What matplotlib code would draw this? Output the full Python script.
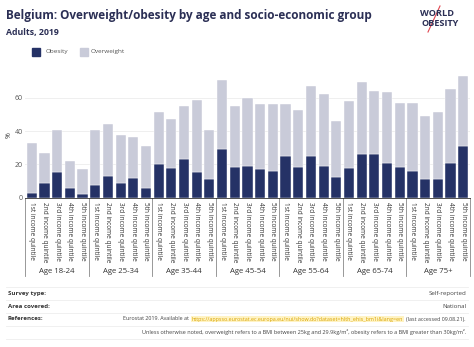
import numpy as np
import matplotlib
matplotlib.use("Agg")
import matplotlib.pyplot as plt
from matplotlib.patches import Rectangle
from matplotlib.lines import Line2D

plt.rcParams['font.family'] = ['Open Sans', 'DejaVu Sans']

age_groups = ["Age 18-24", "Age 25-34", "Age 35-44", "Age 45-54",
              "Age 55-64", "Age 65-74", "Age 75+"]
quintiles = ["1st income quintile", "2nd income quintile", "3rd income quintile",
             "4th income quintile", "5th income quintile"]

# % of adults, per age group, quintiles 1..5
obesity = [2.8, 8.6, 15.6, 6.0, 2.0,
           7.6, 12.8, 8.6, 11.8, 6.0,
           20.0, 17.6, 23.2, 15.4, 11.2,
           29.0, 18.6, 19.0, 17.2, 15.8,
           25.2, 18.2, 24.8, 18.8, 12.2,
           17.8, 26.4, 26.4, 21.0, 18.2,
           15.8, 11.2, 11.0, 20.8, 31.0]
overweight = [30.0, 18.0, 25.2, 15.8, 15.4,
              33.4, 31.8, 29.2, 24.4, 24.8,
              31.4, 29.6, 32.0, 43.2, 29.8,
              41.6, 36.4, 41.0, 39.4, 40.8,
              31.4, 34.8, 42.6, 43.6, 33.8,
              40.4, 43.0, 37.8, 42.4, 38.8,
              41.4, 38.2, 40.4, 44.8, 42.4]

navy = "#253266"
grey = "#c9cbd9"
text_col = "#2b2f55"

fig = plt.figure(figsize=(4.74, 3.47), dpi=100)
ax = fig.add_axes([0.0536, 0.430, 0.937, 0.36])

x = np.arange(len(obesity))
ax.bar(x, obesity, width=0.8, color=navy, edgecolor="white", linewidth=0.3, zorder=3)
ax.bar(x, overweight, bottom=obesity, width=0.8, color=grey, edgecolor="white",
       linewidth=0.3, zorder=3)

ax.set_xlim(-0.5, len(x) - 0.5)
ax.set_ylim(0, 75)
ax.set_yticks([0, 20, 40, 60])
ax.tick_params(axis='y', length=0, labelsize=5, labelcolor="#555555", pad=2)
ax.grid(axis='y', color="#ececec", linewidth=0.6, zorder=0)
for s in ["top", "right", "left"]:
    ax.spines[s].set_visible(False)
ax.spines["bottom"].set_color("#333333")
ax.spines["bottom"].set_linewidth(0.6)
ax.set_ylabel("%", fontsize=5, color="#333333", labelpad=1)

ax.set_xticks(x)
ax.set_xticklabels(quintiles * len(age_groups), rotation=270, fontsize=4.7,
                   color="#333333", va="top", ha="center")
ax.tick_params(axis='x', length=0, pad=3)

# group separators and age labels under the tick labels
for i in range(len(age_groups) + 1):
    xs = i * 5 - 0.5
    ax.add_line(Line2D([xs, xs], [0, -47], color="#888888", linewidth=0.6,
                       clip_on=False))
for i, g in enumerate(age_groups):
    ax.text(i * 5 + 2, -44.5, g, ha="center", va="center", fontsize=5.6,
            color="#333333", clip_on=False)

# legend
fig.patches.append(Rectangle((32 / 474, 1 - 56 / 347), 8 / 474, 8 / 347,
                             transform=fig.transFigure, color=navy))
fig.text(46 / 474, 1 - 52 / 347, "Obesity", fontsize=4.6, color="#555555", va="center")
fig.patches.append(Rectangle((80 / 474, 1 - 56 / 347), 8 / 474, 8 / 347,
                             transform=fig.transFigure, color=grey))
fig.text(91 / 474, 1 - 52 / 347, "Overweight", fontsize=4.6, color="#555555", va="center")

# titles
fig.text(6 / 474, 1 - 15 / 347, "Belgium: Overweight/obesity by age and socio-economic group",
         fontsize=8.5, fontweight="bold", color=text_col, va="center")
fig.text(6 / 474, 1 - 33 / 347, "Adults, 2019", fontsize=6.3, fontweight="bold",
         color=text_col, va="center")

# logo
fig.text(420 / 474, 1 - 14 / 347, "WORLD", fontsize=6.6, fontweight="bold",
         color=text_col, va="center")
fig.text(421 / 474, 1 - 24 / 347, "OBESITY", fontsize=6.6, fontweight="bold",
         color=text_col, va="center")
fig.lines.append(Line2D([428 / 474, 440 / 474], [1 - 32 / 347, 1 - 6 / 347],
                        transform=fig.transFigure, color="#e0454f", linewidth=0.8))

# footer table
for yl in [287, 300, 313, 326, 339]:
    fig.lines.append(Line2D([6 / 474, 468 / 474], [1 - yl / 347, 1 - yl / 347],
                            transform=fig.transFigure, color="#eeeeee", linewidth=0.6))
rows = [("Survey type:", "Self-reported"), ("Area covered:", "National")]
for k, (lab, val) in enumerate(rows):
    yy = 1 - (294 + k * 12.5) / 347
    fig.text(8 / 474, yy, lab, fontsize=4.4, fontweight="bold", color="#333333", va="center")
    fig.text(466 / 474, yy, val, fontsize=4.4, color="#444444", va="center", ha="right")
yy = 1 - 319 / 347
fig.text(8 / 474, yy, "References:", fontsize=4.4, fontweight="bold", color="#333333",
         va="center")

# reference line laid out right to left from measured text widths
renderer = fig.canvas.get_renderer()
pieces = [("(last accessed 09.08.21).", "#444444", None),
          ("https://appsso.eurostat.ec.europa.eu/nui/show.do?dataset=hlth_ehis_bm1i&lang=en",
           "#d9a400", dict(boxstyle="square,pad=0.1", fc="#fff3c4", ec="none")),
          ("Eurostat 2019. Available at", "#444444", None)]
xr = 466
for s, c, bb in pieces:
    t = fig.text(xr / 474, yy, s, fontsize=3.9, color=c, va="center", ha="right", bbox=bb)
    w = t.get_window_extent(renderer).width
    xr -= w + 3

fig.text(466 / 474, 1 - 332 / 347,
         "Unless otherwise noted, overweight refers to a BMI between 25kg and 29.9kg/m², "
         "obesity refers to a BMI greater than 30kg/m².",
         fontsize=4.0, color="#444444", va="center", ha="right")

fig.savefig("out.png", dpi=100)
